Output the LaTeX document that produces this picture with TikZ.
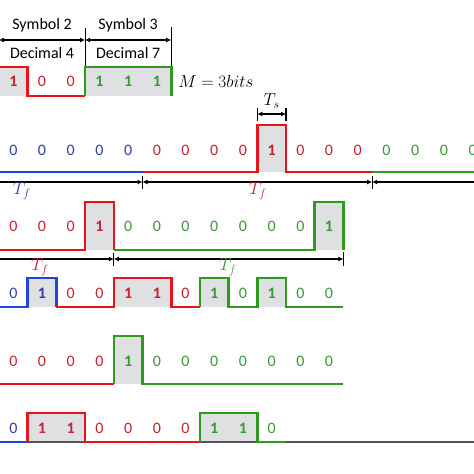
\documentclass[tikz,border=0pt]{standalone}
\usepackage{fontspec}
\setmainfont{Carlito}
\usetikzlibrary{arrows.meta}
\definecolor{wr}{HTML}{E8131B}
\definecolor{wg}{HTML}{2E9B1E}
\definecolor{wb}{HTML}{2343DD}
\definecolor{tr}{HTML}{C8202E}
\definecolor{tg}{HTML}{3C963A}
\definecolor{tb}{HTML}{2F3FA8}
\definecolor{gf}{HTML}{DEE0E2}
\definecolor{bl}{HTML}{555555}
\newcommand\bitone{\textbf{1}}
\newcommand\bitrow[3]{\foreach \k/\v/\c in {#3} \node[bit,text=\c] (#1-\k) at (\k+0.5,#2) {\v};}
\tikzset{
  wave/.style={line width=2.6pt, line join=miter},
  axisline/.style={line width=1.1pt, black},
  dim/.style={axisline, {Latex[length=5pt,width=5pt]}-{Latex[length=5pt,width=5pt]}},
  bit/.style={font=\fontsize{16}{18}\selectfont, inner sep=0pt},
  lbl/.style={font=\fontsize{16}{18}\selectfont, inner sep=0pt},
  mlbl/.style={font=\fontsize{17}{20}\selectfont, inner sep=0pt}
}
\begin{document}
\begin{tikzpicture}[x=28.7pt, y=-1pt]
\useasboundingbox (0.03484,0) rectangle (16.5505,474);
\clip (0.03484,0) rectangle (16.5505,474);
% ---------- Row 1 ----------
\fill[gf] (-0.2,67) rectangle (1,96);
\fill[gf] (3,67) rectangle (6,96);
\draw[wave, wr] (-0.2,67) -- (1,67) -- (1,96) -- (3,96);
\draw[wave, wg] (3,96) -- (3,67) -- (6,67) -- (6,96);
\coordinate (s0) at (0,40);
\coordinate (s1) at (3,40);
\coordinate (s2) at (6,40);
\draw[axisline] (3,28) -- (3,66);
\draw[axisline] (6,27) -- (6,66);
\draw[dim] (s0) -- (s1);
\draw[dim] (s1) -- (s2);
\node[lbl] (sym2) at (1.5,25) {Symbol 2};
\node[lbl] (sym3) at (4.5,25) {Symbol 3};
\node[lbl] (dec4) at (1.5,53) {Decimal 4};
\node[lbl] (dec7) at (4.5,53) {Decimal 7};
\node[mlbl, anchor=west] (mbits) at (6.24,81) {$M = 3bits$};
\bitrow{ra}{81}{0/\bitone/tr,1/0/tr,2/0/tr,3/\bitone/tg,4/\bitone/tg,5/\bitone/tg}
% ---------- Row 2 ----------
\fill[gf] (9,125) rectangle (10,172);
\draw[wave, wb] (-0.2,172) -- (5,172);
\draw[wave, wr] (5,172) -- (9,172) -- (9,125) -- (10,125) -- (10,172) -- (13,172);
\draw[wave, wg] (13,172) -- (17,172);
\bitrow{rb}{150}{0/0/tb,1/0/tb,2/0/tb,3/0/tb,4/0/tb,5/0/tr,6/0/tr,7/0/tr,8/0/tr,9/\bitone/tr,10/0/tr,11/0/tr,12/0/tr,13/0/tg,14/0/tg,15/0/tg,16/0/tg}
\coordinate (ts0) at (9,114);
\coordinate (ts1) at (10,114);
\draw[axisline] (9,108) -- (9,121);
\draw[axisline] (10,108) -- (10,121);
\draw[dim] (ts0) -- (ts1);
\node[mlbl] (tslbl) at (9.5,101) {$T_s$};
\coordinate (fa0) at (-0.5,182);
\coordinate (fa1) at (5,182);
\coordinate (fa2) at (13,182);
\coordinate (fa3) at (17,182);
\draw[axisline] (5,176) -- (5,189);
\draw[axisline] (13,176) -- (13,189);
\draw[dim] (fa0) -- (fa1);
\draw[dim] (fa1) -- (fa2);
\draw[dim] (fa2) -- (fa3);
\node[mlbl, text=tb] (tfa) at (0.80,191) {$T_f$};
\node[mlbl, text=tr] (tfb) at (9.02,191) {$T_f$};
% ---------- Row 3 ----------
\fill[gf] (3,202) rectangle (4,250);
\fill[gf] (11,202) rectangle (12,250);
\draw[wave, wr] (-0.2,250) -- (3,250) -- (3,202) -- (4,202) -- (4,250);
\draw[wave, wg] (4,250) -- (11,250) -- (11,202) -- (12,202) -- (12,250);
\bitrow{rc}{226}{0/0/tr,1/0/tr,2/0/tr,3/\bitone/tr,4/0/tg,5/0/tg,6/0/tg,7/0/tg,8/0/tg,9/0/tg,10/0/tg,11/\bitone/tg}
\coordinate (fb0) at (-0.5,259);
\coordinate (fb1) at (4,259);
\coordinate (fb2) at (12,259);
\draw[axisline] (4,253) -- (4,266);
\draw[axisline] (12,252) -- (12,266);
\draw[dim] (fb0) -- (fb1);
\draw[dim] (fb1) -- (fb2);
\node[mlbl, text=tr] (tfc) at (1.43,267) {$T_f$};
\node[mlbl, text=tg] (tfd) at (7.98,267) {$T_f$};
% ---------- Row 4 ----------
\foreach \s in {1,4,5,7,9} \fill[gf] (\s,278) rectangle (\s+1,307);
\draw[wave, wb] (-0.2,307) -- (1,307) -- (1,278) -- (2,278) -- (2,307);
\draw[wave, wr] (2,307) -- (4,307) -- (4,278) -- (6,278) -- (6,307) -- (7,307);
\draw[wave, wg] (7,307) -- (7,278) -- (8,278) -- (8,307) -- (9,307) -- (9,278) -- (10,278) -- (10,307) -- (12,307);
\bitrow{rd}{293}{0/0/tb,1/\bitone/tb,2/0/tr,3/0/tr,4/\bitone/tr,5/\bitone/tr,6/0/tr,7/\bitone/tg,8/0/tg,9/\bitone/tg,10/0/tg,11/0/tg}
% ---------- Row 5 ----------
\fill[gf] (4,336) rectangle (5,384);
\draw[wave, wr] (-0.2,384) -- (4,384);
\draw[wave, wg] (4,384) -- (4,336) -- (5,336) -- (5,384) -- (12,384);
\bitrow{re}{361}{0/0/tr,1/0/tr,2/0/tr,3/0/tr,4/\bitone/tg,5/0/tg,6/0/tg,7/0/tg,8/0/tg,9/0/tg,10/0/tg,11/0/tg}
% ---------- Row 6 ----------
\fill[gf] (1,413) rectangle (3,442);
\fill[gf] (7,413) rectangle (9,442);
\draw[line width=1.2pt, bl] (-0.2,442) -- (17,442);
\draw[wave, wb] (-0.2,442) -- (1,442);
\draw[wave, wr] (1,442) -- (1,413) -- (3,413) -- (3,442) -- (7,442);
\draw[wave, wg] (7,442) -- (7,413) -- (9,413) -- (9,442) -- (10,442);
\bitrow{rf}{428}{0/0/tb,1/\bitone/tr,2/\bitone/tr,3/0/tr,4/0/tr,5/0/tr,6/0/tr,7/\bitone/tg,8/\bitone/tg,9/0/tg}
\end{tikzpicture}
\end{document}
